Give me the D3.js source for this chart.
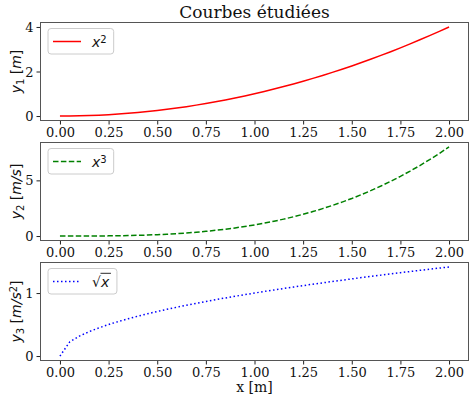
<!DOCTYPE html>
<html>
  <head>
    <meta charset="utf-8">
    <title>Courbes étudiées</title>
    <style>
      body { margin: 0; background: #fff; }
      text { fill: #111; }
    </style>
  </head>
  <body>
    <div id="container"></div>
    <script src="https://d3js.org/d3.v7.min.js"></script>
    <script>

      // DATA
      var xValues = [0.00, 0.05, 0.10, 0.15, 0.20, 0.25, 0.30, 0.35, 0.40, 0.45,
        0.50, 0.55, 0.60, 0.65, 0.70, 0.75, 0.80, 0.85, 0.90, 0.95,
        1.00, 1.05, 1.10, 1.15, 1.20, 1.25, 1.30, 1.35, 1.40, 1.45,
        1.50, 1.55, 1.60, 1.65, 1.70, 1.75, 1.80, 1.85, 1.90, 1.95, 2.00];

      var ySquare = [0, 0.0025, 0.01, 0.0225, 0.04, 0.0625, 0.09, 0.1225, 0.16, 0.2025,
        0.25, 0.3025, 0.36, 0.4225, 0.49, 0.5625, 0.64, 0.7225, 0.81, 0.9025,
        1, 1.1025, 1.21, 1.3225, 1.44, 1.5625, 1.69, 1.8225, 1.96, 2.1025,
        2.25, 2.4025, 2.56, 2.7225, 2.89, 3.0625, 3.24, 3.4225, 3.61, 3.8025, 4];

      var yCube = [0, 0.000125, 0.001, 0.003375, 0.008, 0.015625, 0.027, 0.042875, 0.064, 0.091125,
        0.125, 0.166375, 0.216, 0.274625, 0.343, 0.421875, 0.512, 0.614125, 0.729, 0.857375,
        1, 1.157625, 1.331, 1.520875, 1.728, 1.953125, 2.197, 2.460375, 2.744, 3.048625,
        3.375, 3.723875, 4.096, 4.492125, 4.913, 5.359375, 5.832, 6.331625, 6.859, 7.414875, 8];

      var ySqrt = [0, 0.2236, 0.3162, 0.3873, 0.4472, 0.5, 0.5477, 0.5916, 0.6325, 0.6708,
        0.7071, 0.7416, 0.7746, 0.8062, 0.8367, 0.8660, 0.8944, 0.9220, 0.9487, 0.9747,
        1, 1.0247, 1.0488, 1.0724, 1.0954, 1.1180, 1.1402, 1.1619, 1.1832, 1.2042,
        1.2247, 1.2450, 1.2649, 1.2845, 1.3038, 1.3229, 1.3416, 1.3601, 1.3784, 1.3964, 1.4142];

      var xTicks = [0, 0.25, 0.5, 0.75, 1, 1.25, 1.5, 1.75, 2];
      var yTicks1 = [0, 2, 4];
      var yTicks2 = [0, 5];
      var yTicks3 = [0, 1];

      var title = "Courbes étudiées";
      var xLabel = "x [m]";

      // SET DIMENSIONS
      var W = 474, H = 401;
      var left = 40.5, right = 468.5;
      var panelH = 98;
      var tops = [22.5, 142.5, 262.5];
      var serif = "'DejaVu Serif', serif";
      var sans = "'DejaVu Sans', sans-serif";

      var svg = d3.select("#container")
        .append("svg")
        .attr("width", W)
        .attr("height", H);

      // shared x scale (5% margins like matplotlib)
      var x = d3.scaleLinear()
        .domain([-0.1, 2.1])
        .range([left, right]);

      svg.append("text")
        .attr("x", (left + right) / 2)
        .attr("y", 17.5)
        .attr("text-anchor", "middle")
        .style("font-family", serif)
        .style("font-size", "17px")
        .text(title);

      var panels = [
        { ys: ySquare, ticks: yTicks1, color: "#ff0000", dash: null, kind: "sq",
          label: [["y", "i"], ["1", "sub"], [" [", "r"], ["m", "i"], ["]", "r"]] },
        { ys: yCube, ticks: yTicks2, color: "#008000", dash: "5.5,2.4", kind: "cu",
          label: [["y", "i"], ["2", "sub"], [" [", "r"], ["m/s", "i"], ["]", "r"]] },
        { ys: ySqrt, ticks: yTicks3, color: "#0000ff", dash: "1.5,2.5", kind: "rt",
          label: [["y", "i"], ["3", "sub"], [" [", "r"], ["m/s", "i"], ["2", "sup"], ["]", "r"]] }
      ];

      panels.forEach(function (p, i) {
        var top = tops[i], bottom = top + panelH;
        var lo = d3.min(p.ys), hi = d3.max(p.ys), pad = (hi - lo) * 0.05;
        var y = d3.scaleLinear()
          .domain([lo - pad, hi + pad])
          .range([bottom, top]);

        var g = svg.append("g");

        // X AXIS
        var xAxis = g.append("g")
          .attr("transform", "translate(0," + bottom + ")")
          .call(d3.axisBottom(x).tickValues(xTicks).tickFormat(d3.format(".2f"))
            .tickSizeInner(4).tickSizeOuter(0).tickPadding(3));
        styleAxis(xAxis);

        // Y AXIS
        var yAxis = g.append("g")
          .attr("transform", "translate(" + left + ",0)")
          .call(d3.axisLeft(y).tickValues(p.ticks).tickFormat(d3.format("d"))
            .tickSizeInner(4).tickSizeOuter(0).tickPadding(3));
        styleAxis(yAxis);
        yAxis.selectAll("text").attr("dy", "0.35em");

        // CURVE
        var pts = xValues.map(function (v, k) { return [v, p.ys[k]]; });
        g.append("path")
          .datum(pts)
          .attr("fill", "none")
          .attr("stroke", p.color)
          .attr("stroke-width", 1.5)
          .attr("stroke-dasharray", p.dash)
          .attr("d", d3.line()
            .x(function (d) { return x(d[0]); })
            .y(function (d) { return y(d[1]); }));

        // FRAME
        g.append("rect")
          .attr("x", left).attr("y", top)
          .attr("width", right - left).attr("height", panelH)
          .attr("fill", "none")
          .attr("stroke", "#555")
          .attr("stroke-width", 1);

        // Y LABEL
        var lab = g.append("text")
          .attr("transform", "translate(21," + (top + panelH / 2) + ") rotate(-90)")
          .attr("text-anchor", "middle")
          .style("font-family", sans)
          .style("font-size", "14px");
        p.label.forEach(function (part) { addPart(lab, part[0], part[1]); });

        // LEGEND
        var lg = g.append("g").attr("transform", "translate(" + (left + 7.5) + "," + (top + 6) + ")");
        var box = lg.append("rect")
          .attr("height", 25.5).attr("rx", 3)
          .attr("fill", "#fff").attr("fill-opacity", 0.8)
          .attr("stroke", "#ccc").attr("stroke-width", 1);
        lg.append("line")
          .attr("x1", 5).attr("x2", 33).attr("y1", 13).attr("y2", 13)
          .attr("stroke", p.color).attr("stroke-width", 1.5)
          .attr("stroke-dasharray", p.dash);
        var lt = lg.append("text")
          .attr("x", 44).attr("y", 18)
          .style("font-family", sans)
          .style("font-size", "14px");
        if (p.kind === "sq") { addPart(lt, "x", "i"); addPart(lt, "2", "sup"); }
        if (p.kind === "cu") { addPart(lt, "x", "i"); addPart(lt, "3", "sup"); }
        if (p.kind === "rt") {
          addPart(lt, "\u221A", "r");
          lt.append("tspan").style("font-style", "italic").text("x");
          var bb = lt.node().getBBox();
          lg.append("line")
            .attr("x1", bb.x + 8.5).attr("x2", bb.x + bb.width + 1)
            .attr("y1", 4.8).attr("y2", 4.8)
            .attr("stroke", "#111").attr("stroke-width", 0.9);
        }
        var tb = lt.node().getBBox();
        box.attr("width", tb.x + tb.width + 7);
      });

      // X LABEL
      svg.append("text")
        .attr("x", (left + right) / 2)
        .attr("y", 392)
        .attr("text-anchor", "middle")
        .style("font-family", serif)
        .style("font-size", "14px")
        .text(xLabel);

      function styleAxis(a) {
        a.select(".domain").remove();
        a.selectAll("line").attr("stroke", "#222");
        a.selectAll("text")
          .style("font-family", serif)
          .style("font-size", "13px")
          .attr("fill", "#111");
      }

      function addPart(t, s, kind) {
        var ts = t.append("tspan").text(s);
        if (kind === "i") ts.style("font-style", "italic");
        if (kind === "sub") ts.attr("baseline-shift", "-25%").style("font-size", "10px");
        if (kind === "sup") ts.attr("baseline-shift", "40%").style("font-size", "10px");
        return ts;
      }

    </script>
  </body>
</html>
